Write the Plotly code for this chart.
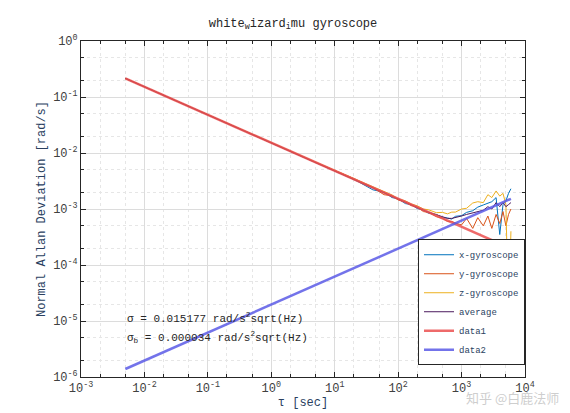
import plotly.graph_objects as go

# tau grid (sec) for measured Allan deviation
tau = [0.005, 0.05, 0.5, 5, 20, 40, 60, 80, 100, 130, 160, 200, 250, 300, 400, 500,
       600, 700, 800, 1000, 1200, 1500, 1800, 2200, 2600, 3000, 3500, 4000, 4500, 5000, 5500, 6000]
x_gyro = [0.215, 0.0679, 0.0215, 0.0068, 0.0034, 0.0022, 0.002, 0.0016, 0.00152, 0.00125, 0.0012,
          0.00102, 0.00096, 0.00084, 0.0008, 0.0007, 0.00069, 0.00066, 0.00074, 0.00076, 0.00087,
          0.00093, 0.00108, 0.00118, 0.00128, 0.00135, 0.0016, 0.00035, 0.0012, 0.0014, 0.0019, 0.0023]
y_gyro = [0.215, 0.0679, 0.0215, 0.0068, 0.0035, 0.0024, 0.0018, 0.00172, 0.00145, 0.00133, 0.00115,
          0.00108, 0.0009, 0.00087, 0.00073, 0.00068, 0.0006, 0.0006, 0.00056, 0.00052, 0.00068,
          0.00045, 0.0007, 0.0005, 0.00075, 0.00045, 0.0008, 0.00055, 0.0009, 0.0005, 0.0008, 0.001]
z_gyro = [0.215, 0.0679, 0.0215, 0.0069, 0.0035, 0.0025, 0.002, 0.00178, 0.00152, 0.0014, 0.00123,
          0.00114, 0.001, 0.00097, 0.00086, 0.00087, 0.00082, 0.00088, 0.00088, 0.001, 0.00103,
          0.00128, 0.00135, 0.0013, 0.0018, 0.0016, 0.0021, 0.0017, 0.0019, 0.0012, 0.00001, 0.0004]
average = [0.215, 0.0679, 0.0215, 0.0068, 0.0034, 0.0024, 0.0019, 0.0017, 0.0015, 0.0013, 0.0012,
           0.00106, 0.00095, 0.00088, 0.00078, 0.00072, 0.00068, 0.00068, 0.0007, 0.00075, 0.0008,
           0.00085, 0.0009, 0.00095, 0.0011, 0.001, 0.0013, 0.0011, 0.0013, 0.0011, 0.0012, 0.0013]

# fitted lines (endpoints)
fit_tau = [0.005, 6000]
data1 = [0.2146, 0.000196]
data2 = [1.39e-6, 0.00152]

x_ticks = [1e-3, 1e-2, 1e-1, 1, 10, 100, 1e3, 1e4]
x_labels = ["10<sup>-3</sup>", "10<sup>-2</sup>", "10<sup>-1</sup>", "10<sup>0</sup>", "10<sup>1</sup>",
            "10<sup>2</sup>", "10<sup>3</sup>", "10<sup>4</sup>"]
y_ticks = [1e-6, 1e-5, 1e-4, 1e-3, 1e-2, 1e-1, 1]
y_labels = ["10<sup>-6</sup>", "10<sup>-5</sup>", "10<sup>-4</sup>", "10<sup>-3</sup>", "10<sup>-2</sup>",
            "10<sup>-1</sup>", "10<sup>0</sup>"]

font = "Liberation Mono"
fig = go.Figure()
fig.add_trace(go.Scatter(x=tau, y=x_gyro, name="x-gyroscope", mode="lines", line=dict(color="#0072BD", width=1)))
fig.add_trace(go.Scatter(x=tau, y=y_gyro, name="y-gyroscope", mode="lines", line=dict(color="#D95319", width=1)))
fig.add_trace(go.Scatter(x=tau, y=z_gyro, name="z-gyroscope", mode="lines", line=dict(color="#EDB120", width=1)))
fig.add_trace(go.Scatter(x=tau, y=average, name="average", mode="lines", line=dict(color="#4B1A5E", width=1)))
fig.add_trace(go.Scatter(x=fit_tau, y=data1, name="data1", mode="lines", line=dict(color="rgba(235,80,80,0.85)", width=2.5)))
fig.add_trace(go.Scatter(x=fit_tau, y=data2, name="data2", mode="lines", line=dict(color="rgba(90,90,230,0.85)", width=2.5)))

axis = dict(type="log", showline=True, mirror="ticks", linecolor="#262626", ticks="inside",
            tickcolor="#262626", gridcolor="#dcdcdc", showgrid=True,
            tickfont=dict(family=font, size=12, color="#404040"),
            minor=dict(showgrid=True, gridcolor="#e6e6e6", griddash="dot", ticks="inside", ticklen=3),
            zeroline=False)
fig.update_xaxes(**axis, range=[-3, 4], tickvals=x_ticks, ticktext=x_labels,
                 title=dict(text="τ [sec]", font=dict(family=font, size=12), standoff=2))
fig.update_yaxes(**axis, range=[-6, 0], tickvals=y_ticks, ticktext=y_labels,
                 title=dict(text="Normal Allan Deviation [rad/s]", font=dict(family=font, size=12), standoff=4))

fig.add_annotation(x=-2.3, y=-4.95, xref="x", yref="y", text="σ = 0.015177 rad/s<sup>2</sup>sqrt(Hz)",
                   showarrow=False, xanchor="left", font=dict(family=font, size=11, color="#262626"))
fig.add_annotation(x=-2.3, y=-5.3, xref="x", yref="y", text="σ<sub>b</sub> = 0.000034 rad/s<sup>2</sup>sqrt(Hz)",
                   showarrow=False, xanchor="left", font=dict(family=font, size=11, color="#262626"))
fig.add_annotation(x=1, y=0, xref="paper", yref="paper", yshift=-32, xshift=36, text="知乎 @白鹿法师",
                   showarrow=False, xanchor="right", yanchor="bottom",
                   font=dict(family="Noto Sans CJK SC", size=13, color="rgba(200,200,200,0.9)"))

fig.update_layout(
    width=570, height=413, margin=dict(l=73, r=53, t=33, b=44),
    paper_bgcolor="white", plot_bgcolor="white", showlegend=True,
    title=dict(text="white<sub>w</sub>izard<sub>i</sub>mu gyroscope", x=0.5, y=0.975,
               font=dict(family=font, size=12, color="#262626")),
    legend=dict(x=1, y=0.035, xanchor="right", yanchor="bottom", bgcolor="white", bordercolor="#262626",
                borderwidth=1, font=dict(family=font, size=9), tracegroupgap=0, itemwidth=30),
)
fig.write_html("out.html")
